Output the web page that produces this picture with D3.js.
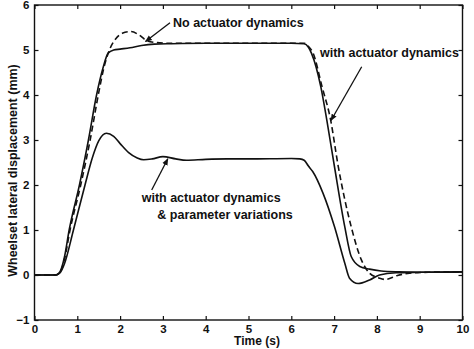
<!DOCTYPE html>
<html><head><meta charset="utf-8">
<script src="https://cdn.jsdelivr.net/npm/d3@7"></script>
<style>
html,body{margin:0;padding:0;background:#fff;}
svg{display:block;}
text{font-family:"Liberation Sans",Arial,Helvetica,sans-serif;fill:#111;}
</style></head>
<body>
<script>
const xTicks = [0,1,2,3,4,5,6,7,8,9,10];
const yTicks = [-1,0,1,2,3,4,5,6];

const tNoAct = [0,0.5,0.6,0.7,0.83,1.08,1.3,1.49,1.62,1.75,1.9,2.05,2.25,2.45,2.6,2.8,3.16,4,5,6,6.3,6.4,6.5,6.72,6.92,7.09,7.4,7.64,7.83,8.06,8.2,8.48,8.76,9.2,10];
const vNoAct = [0,0,0.07,0.35,1.0,2.0,3.0,4.0,4.6,5.0,5.25,5.37,5.41,5.33,5.22,5.17,5.15,5.15,5.15,5.15,5.15,5.08,4.95,4.18,3.44,2.45,1.07,0.33,0.04,-0.07,-0.1,-0.01,0.04,0.06,0.07];

const tWithAct = [0,0.5,0.6,0.7,0.81,1.05,1.26,1.45,1.6,1.72,1.85,2.0,2.23,2.5,2.8,3.2,4,5,6,6.3,6.4,6.47,6.69,6.83,7.01,7.25,7.4,7.6,7.83,8.1,8.53,9,10];
const vWithAct = [0,0,0.08,0.4,1.0,2.0,3.0,4.0,4.6,4.93,5.0,5.02,5.05,5.1,5.13,5.14,5.15,5.15,5.15,5.14,5.06,4.93,4.18,3.44,2.4,1.07,0.41,0.19,0.13,0.09,0.07,0.06,0.07];

const tParam = [0,0.5,0.6,0.7,0.91,1.18,1.35,1.5,1.68,1.85,2.0,2.2,2.4,2.55,2.75,3.0,3.3,3.55,4,4.5,5,6,6.2,6.3,6.4,6.5,6.74,7.01,7.25,7.36,7.56,7.83,8.06,8.45,9,10];
const vParam = [0,0,0.05,0.25,1.0,2.0,2.6,2.98,3.15,3.08,2.92,2.72,2.6,2.56,2.58,2.63,2.58,2.55,2.57,2.58,2.58,2.59,2.58,2.55,2.42,2.3,1.82,1.07,0.26,-0.07,-0.19,-0.11,0.0,0.05,0.06,0.07];

const W = 474, H = 349;
const m = {left:34.5, right:11.5, top:5, bottom:29};
const svg = d3.select("body").append("svg").attr("width",W).attr("height",H);
const x = d3.scaleLinear().domain([0,10]).range([m.left, W-m.right]);
const y = d3.scaleLinear().domain([-1,6]).range([H-m.bottom, m.top]);

// frame
svg.append("rect").attr("x",x(0)).attr("y",y(6)).attr("width",x(10)-x(0)).attr("height",y(-1)-y(6))
  .attr("fill","none").attr("stroke","#111").attr("stroke-width",1.4);

const tl = 4;
// axes (inward ticks)
const gx = svg.append("g").attr("transform",`translate(0,${y(-1)})`)
  .call(d3.axisBottom(x).tickValues(xTicks).tickSizeInner(-tl).tickSizeOuter(0).tickPadding(4.5));
const gxt = svg.append("g").attr("transform",`translate(0,${y(6)})`)
  .call(d3.axisTop(x).tickValues(xTicks).tickSizeInner(-tl).tickSizeOuter(0).tickFormat(""));
const gy = svg.append("g").attr("transform",`translate(${x(0)},0)`)
  .call(d3.axisLeft(y).tickValues(yTicks).tickSizeInner(-tl).tickSizeOuter(0).tickPadding(5).tickFormat(d3.format("d")));
const gyr = svg.append("g").attr("transform",`translate(${x(10)},0)`)
  .call(d3.axisRight(y).tickValues(yTicks).tickSizeInner(-tl).tickSizeOuter(0).tickFormat(""));
[gx,gxt,gy,gyr].forEach(g=>{
  g.select(".domain").remove();
  g.selectAll(".tick line").attr("stroke","#111").attr("stroke-width",1.2);
  g.selectAll("text").attr("font-size",11.5).attr("font-weight","bold").style("font-family",'"Liberation Sans",Arial,sans-serif').attr("fill","#111");
});

// labels
svg.append("text").attr("x",257).attr("y",345).attr("text-anchor","middle")
  .attr("font-size",12).attr("font-weight","bold").text("Time (s)");
svg.append("text").attr("transform",`translate(17,${170.5}) rotate(-90)`).attr("text-anchor","middle")
  .attr("font-size",12.5).attr("font-weight","bold").text("Wheelset lateral displacement (mm)");

// curves
const line = d3.line().x(d=>x(d[0])).y(d=>y(d[1])).curve(d3.curveMonotoneX);
function draw(ts, vs, dash){
  svg.append("path").datum(ts.map((t,i)=>[t,vs[i]])).attr("d",line)
    .attr("fill","none").attr("stroke","#111").attr("stroke-width",1.6)
    .attr("stroke-dasharray",dash||null).attr("stroke-linejoin","round");
}
draw(tParam, vParam);
draw(tWithAct, vWithAct);
draw(tNoAct, vNoAct, "6,3.5");

// arrows
svg.append("defs").append("marker").attr("id","ah").attr("viewBox","0 0 10 10")
  .attr("refX",9).attr("refY",5).attr("markerWidth",7).attr("markerHeight",7)
  .attr("markerUnits","userSpaceOnUse").attr("orient","auto")
  .append("path").attr("d","M0,1 L10,5 L0,9 Z").attr("fill","#111");
function arrow(x1,y1,x2,y2){
  svg.append("line").attr("x1",x1).attr("y1",y1).attr("x2",x2).attr("y2",y2)
    .attr("stroke","#111").attr("stroke-width",1.3).attr("marker-end","url(#ah)");
}
arrow(170,22.7,145.5,41.5);
arrow(361.7,66.7,331,120.5);
arrow(151.7,190,167.8,158.8);

function label(tx,ty,s){
  svg.append("text").attr("x",tx).attr("y",ty).attr("font-size",12.5).attr("font-weight","bold").text(s);
}
label(173,27,"No actuator dynamics");
label(320,56.7,"with actuator dynamics");
label(141.7,201.7,"with actuator dynamics");
label(157.3,219.3,"& parameter variations");
</script>
</body></html>
